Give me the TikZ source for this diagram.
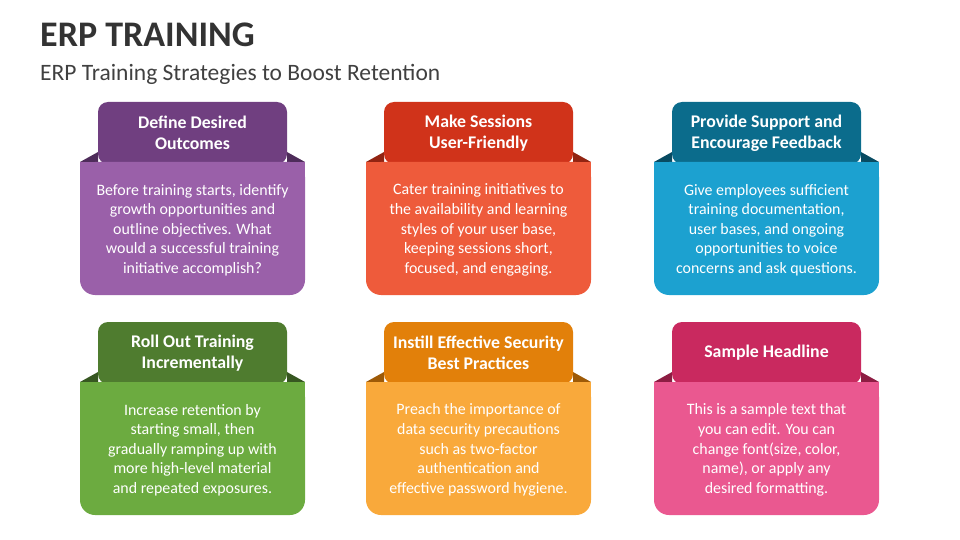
\documentclass[tikz,border=0pt]{standalone}
\usepackage{fontspec}
\setmainfont{Carlito}
\begin{document}
\begin{tikzpicture}[x=1pt,y=-1pt,
  head/.style={text=white,font=\bfseries\fontsize{17.8}{21}\selectfont,align=center},
  bodytxt/.style={text=white,font=\fontsize{15.9}{19.6}\selectfont,align=center}]
\useasboundingbox (0,0) rectangle (960,540);
\node[anchor=west,font=\bfseries\fontsize{36}{38}\selectfont,text=black!80,inner sep=0] (title) at (40,35) {ERP TRAINING};
\node[anchor=west,font=\fontsize{23.5}{26}\selectfont,text=black!75,inner sep=0] (sub) at (40,74) {ERP Training Strategies to Boost Retention};
\newcommand{\card}[7]{%
 \fill[#3!70!black] (#1+18,#2+50) -- (#1,#2+60) -- (#1+18,#2+60) -- cycle;
 \fill[#3!70!black] (#1+207,#2+50) -- (#1+225,#2+60) -- (#1+207,#2+60) -- cycle;
 \fill[#3,rounded corners=10pt] (#1+18,#2+62) -- (#1+18,#2) -- (#1+207,#2) -- (#1+207,#2+62) -- cycle;
 \fill[#4,rounded corners=15pt] (#1,#2+60) -- (#1+225,#2+60) -- (#1+225,#2+193) -- (#1,#2+193) -- cycle;
 \fill[#4] (#1,#2+60) rectangle (#1+225,#2+75);
 \node[head] (#5h) at (#1+112.5,#2+31) {#6};
 \node[bodytxt] (#5b) at (#1+112.5,#2+128) {#7};
}
\definecolor{pH}{HTML}{703F80}\definecolor{pB}{HTML}{9A60A9}
\definecolor{rH}{HTML}{D0331A}\definecolor{rB}{HTML}{EE5B3B}
\definecolor{bH}{HTML}{0B6C8C}\definecolor{bB}{HTML}{1CA1D0}
\definecolor{gH}{HTML}{4F7C2F}\definecolor{gB}{HTML}{6CAB40}
\definecolor{oH}{HTML}{E2800A}\definecolor{oB}{HTML}{F9A93B}
\definecolor{kH}{HTML}{C9295F}\definecolor{kB}{HTML}{EA5890}
\card{80}{102}{pH}{pB}{c1}{Define Desired\\Outcomes}{Before training starts, identify\\growth opportunities and\\outline objectives. What\\would a successful training\\initiative accomplish?}
\card{366}{102}{rH}{rB}{c2}{Make Sessions\\User-Friendly}{Cater training initiatives to\\the availability and learning\\styles of your user base,\\keeping sessions short,\\focused, and engaging.}
\card{654}{102}{bH}{bB}{c3}{Provide Support and\\Encourage Feedback}{Give employees sufficient\\training documentation,\\user bases, and ongoing\\opportunities to voice\\concerns and ask questions.}
\card{80}{322}{gH}{gB}{c4}{Roll Out Training\\Incrementally}{Increase retention by\\starting small, then\\gradually ramping up with\\more high-level material\\and repeated exposures.}
\card{366}{322}{oH}{oB}{c5}{Instill Effective Security\\Best Practices}{Preach the importance of\\data security precautions\\such as two-factor\\authentication and\\effective password hygiene.}
\card{654}{322}{kH}{kB}{c6}{Sample Headline}{This is a sample text that\\you can edit. You can\\change font(size, color,\\name), or apply any\\desired formatting.}
\end{tikzpicture}
\end{document}
